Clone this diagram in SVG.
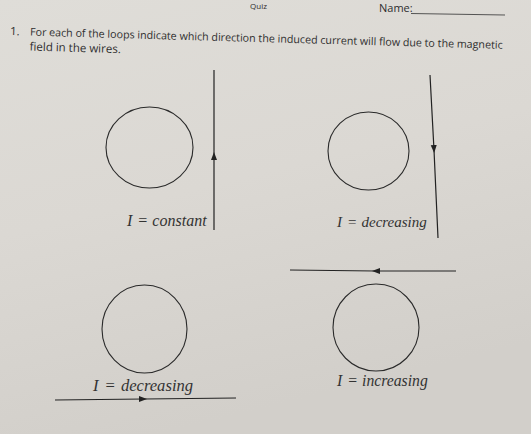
<svg xmlns="http://www.w3.org/2000/svg" width="531" height="434" viewBox="0 0 531 434">
<defs>
<linearGradient id="bg" x1="0" y1="0" x2="0.3" y2="1">
<stop offset="0" stop-color="#dfddd8"/>
<stop offset="0.5" stop-color="#dbd8d3"/>
<stop offset="1" stop-color="#d2cfca"/>
</linearGradient>
<marker id="arr" markerUnits="userSpaceOnUse" markerWidth="9" markerHeight="7" refX="5" refY="3" orient="auto">
<path d="M0,0 L8,3 L0,6 z" fill="#222"/>
</marker>
<style>
.hdr{font-family:"Open Sans","Liberation Sans",sans-serif;font-size:11.5px;fill:#2e2e2e}
.lbl{font-family:"Liberation Serif","DejaVu Serif",serif;font-size:15px;fill:#333}
.it{font-style:italic}
.loop{fill:none;stroke:#2a2a2a;stroke-width:1.1}
.wire{fill:none;stroke:#222;stroke-width:1.2;marker-mid:url(#arr)}
</style>
</defs>
<rect width="531" height="434" fill="url(#bg)"/>
<g id="header">
<text class="hdr" x="250" y="9" style="font-size:8px">Quiz</text>
<text class="hdr" x="379" y="12" style="font-size:11px">Name:</text>
<line x1="411" y1="13.5" x2="505" y2="15" stroke="#444" stroke-width="0.9"/>
<g transform="rotate(1.6 10 33)">
<text class="hdr" x="10" y="35">1.</text>
<text class="hdr" x="30" y="35" style="font-size:10.7px">For each of the loops indicate which direction the induced current will flow due to the magnetic</text>
<text class="hdr" x="30" y="50">field in the wires.</text>
</g>
</g>
<g id="loop1">
<ellipse class="loop" cx="149.5" cy="147.5" rx="43.5" ry="40.5"/>
<text class="lbl" x="127" y="226" style="font-size:16px"><tspan class="it">I</tspan><tspan dx="6">=</tspan><tspan dx="5" class="it">constant</tspan></text>
</g>
<g id="loop2">
<ellipse class="loop" cx="368.5" cy="151" rx="40.5" ry="39"/>
<text class="lbl" x="337" y="227"><tspan class="it">I</tspan><tspan dx="6">=</tspan><tspan dx="5" class="it">decreasing</tspan></text>
</g>
<g id="loop3">
<ellipse class="loop" cx="144.5" cy="329" rx="42.5" ry="44"/>
<text class="lbl" x="93" y="391" style="font-size:16.6px"><tspan class="it">I</tspan><tspan dx="7">=</tspan><tspan dx="6" class="it">decreasing</tspan></text>
</g>
<g id="loop4">
<ellipse class="loop" cx="376" cy="327.5" rx="43" ry="43.5"/>
<text class="lbl" x="337" y="386" style="font-size:15.7px"><tspan class="it">I</tspan><tspan dx="6">=</tspan><tspan dx="5" class="it">increasing</tspan></text>
</g>
<g id="connectors">
<path class="wire" d="M214,230 L214,155 L214,70"/>
<path class="wire" d="M430,75 L434,150 L438,238"/>
<path class="wire" d="M55,400 L144,399 L236,398"/>
<path class="wire" d="M456,271 L375,271 L290,270"/>
</g>
</svg>
